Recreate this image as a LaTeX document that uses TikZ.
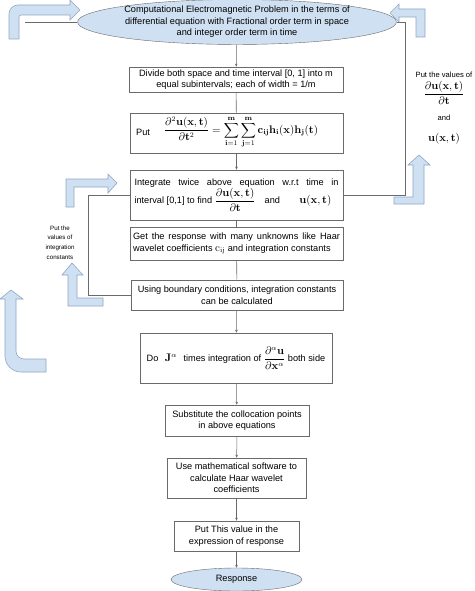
\documentclass[tikz,border=0pt]{standalone}
\usepackage{amsmath}
\usepackage{amsfonts}
\usepackage[no-math]{fontspec}
\setmainfont{Liberation Sans}
\usepackage{tikz}
\usetikzlibrary{shapes.geometric,arrows.meta}
\definecolor{fillblue}{HTML}{CFE0F2}
\definecolor{edgeblue}{HTML}{8FA8C4}
\definecolor{linegray}{HTML}{6A6A6A}
\newcommand{\bigmath}[1]{{\fontsize{10.5}{12}\selectfont$#1$}}

\begin{document}
\begin{tikzpicture}[x=1pt, y=-1pt, font=\fontsize{9.2}{11.6}\selectfont, main/.style={draw=linegray, ellipse, fill=fillblue, inner sep=0pt, align=center}, info/.style={rectangle, draw=linegray, line width=0.6pt, inner sep=0pt, align=center}, n/.style={-{Stealth[length=3pt, width=2.6pt]}, draw=linegray, line width=0.5pt}, l/.style={draw=linegray, line width=0.6pt}, barrow/.style={fill=fillblue, draw=edgeblue, line width=0.6pt}, note/.style={align=center, font=\fontsize{6.2}{9.6}\selectfont}]
            \useasboundingbox (0,0) rectangle (474,591);
            % nodes
            \node[main, minimum width=282pt, minimum height=42pt] (problem) at (237,22) {Computational Electromagnetic Problem in the terms of\\differential equation with Fractional order term in space\\and integer order term in time};
            \node[info, minimum width=214pt, minimum height=25pt] (divide) at (236,79.5) {Divide both space and time interval [0, 1] into m\\equal subintervals; each of width = 1/m};
            \node[info, minimum width=213pt, minimum height=40pt] (put) at (236.5,133) {};
            \node[anchor=west, inner sep=0pt] (putlabel) at (136,132) {Put};
            \node (haar) at (241,132) {\bigmath{\displaystyle\frac{\partial^2\mathbf{u}(\mathbf{x},\mathbf{t})}{\partial\mathbf{t}^2}=\sum_{\mathbf{i}=1}^{\mathbf{m}}\sum_{\mathbf{j}=1}^{\mathbf{m}}\mathbf{c_{ij}h_i(x)h_j(t)}}};
            \node[info, minimum width=213pt, minimum height=50pt, align=justify, text width=204pt] (integ) at (236.5,195) {Integrate twice above equation w.r.t time in\linebreak interval [0,1] to find \bigmath{\dfrac{\partial\mathbf{u}(\mathbf{x},\mathbf{t})}{\partial\mathbf{t}}}\hspace{1em}and\hspace{2.1em}\bigmath{\mathbf{u}(\mathbf{x},\mathbf{t})}};
            \node[info, minimum width=213pt, minimum height=33pt, align=justify, text width=207pt] (unknown) at (236.5,243.5) {Get the response with many unknowns like Haar\linebreak wavelet coefficients \bigmath{\mathrm{c}_{\mathrm{ij}}} and integration constants};
            \node[info, minimum width=212pt, minimum height=30pt] (bound) at (237,295) {Using boundary conditions, integration constants\\can be calculated};
            \node[info, minimum width=192pt, minimum height=50pt] (jalpha) at (236,358) {Do\hspace{0.7em}\bigmath{\mathbf{J}^{\alpha}}\hspace{0.7em}times integration of \bigmath{\dfrac{\partial^{\alpha}\mathbf{u}}{\partial\mathbf{x}^{\alpha}}} both side};
            \node[info, minimum width=144pt, minimum height=31pt] (subst) at (237,420.5) {Substitute the collocation points\\in above equations};
            \node[info, minimum width=139pt, minimum height=40pt] (soft) at (236.5,478) {Use mathematical software to\\calculate Haar wavelet\\coefficients};
            \node[info, minimum width=125pt, minimum height=30pt] (value) at (236.5,536) {Put This value in the\\expression of response};
            \node[main, minimum width=131pt, minimum height=23pt] (response) at (236.5,579.5) {Response};
            \node[note, font=\fontsize{7.6}{9}\selectfont] (putright) at (444,108) {Put the values of\\[3pt] \bigmath{\dfrac{\partial\mathbf{u}(\mathbf{x},\mathbf{t})}{\partial\mathbf{t}}}\\[10pt] and\\[12pt] \bigmath{\mathbf{u}(\mathbf{x},\mathbf{t})}};
            \node[note] (putleft) at (60,242.5) {Put the\\values of\\integration\\constants};
            \coordinate (leftend) at (25,22);
            \coordinate (rightcorner) at (405,22);
            \coordinate (rightfoot) at (405,195);
            \coordinate (lefttop) at (88,195);
            \coordinate (leftfoot) at (88,295);
            % edges
            \draw [n] (problem) -- (divide);
            \draw [l] (divide) -- (put);
            \draw [n] (put) -- (integ);
            \draw [l] (integ) -- (unknown);
            \draw [l] (unknown) -- (bound);
            \draw [n] (bound) -- (jalpha);
            \draw [n] (jalpha) -- (subst);
            \draw [n] (subst) -- (soft);
            \draw [n] (soft) -- (value);
            \draw [n] (value) -- (response);
            \draw [l] (problem.west) -- (leftend);
            \draw [l] (integ.east) -- (rightfoot) -- (rightcorner) -- (problem.east);
            \draw [l] (bound.west) -- (leftfoot) -- (lefttop) -- (integ.west);
            % block arrows
            \draw [barrow] (9,39) [rounded corners=9pt] -- (9,5) [sharp corners] -- (70,5) -- (70,0) -- (80,10) -- (70,20) -- (70,15) [rounded corners=2pt] -- (19,15) [sharp corners] -- (19,39) -- cycle;
            \draw [barrow] (390,13) -- (399,4) -- (399,9) -- (425,9) -- (425,37) -- (416,37) -- (416,17) -- (399,17) -- (399,22) -- cycle;
            \draw [barrow] (419,155) -- (430,165) -- (424,165) -- (424,204) -- (394,204) -- (394,197) -- (413,197) -- (413,165) -- (408,165) -- cycle;
            \draw [barrow] (117,183) -- (108,174) -- (108,179) -- (66,179) -- (66,207) -- (74,207) -- (74,187) -- (108,187) -- (108,193) -- cycle;
            \draw [barrow] (72,263) -- (83,275) -- (77,275) -- (77,298) -- (103,298) -- (103,306) -- (68,306) -- (68,275) -- (62,275) -- cycle;
            \draw [barrow] (11,290) -- (23,299) -- (16,299) [rounded corners=8pt] -- (16,359) [sharp corners] -- (46,359) -- (46,372) [rounded corners=16pt] -- (5,372) [sharp corners] -- (5,299) -- (0,299) -- cycle;
        \end{tikzpicture}
\end{document}
